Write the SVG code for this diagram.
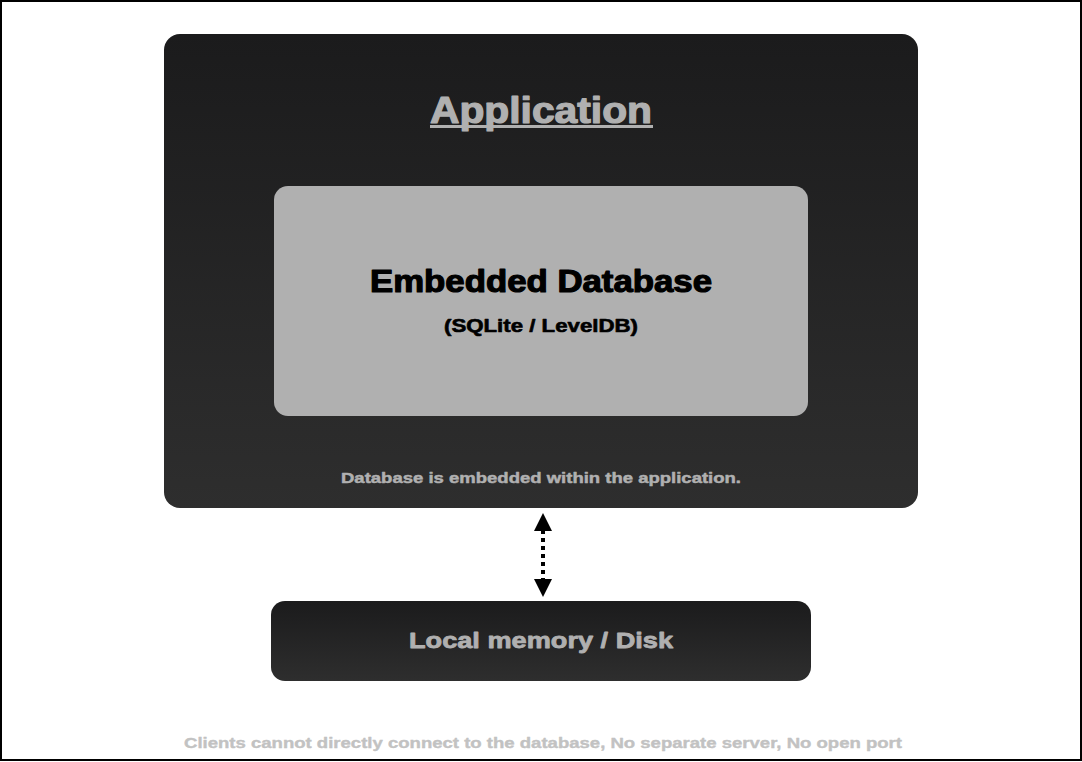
<svg xmlns="http://www.w3.org/2000/svg" width="1082" height="762" viewBox="0 0 1082 762">
<style>
text{font-family:"Liberation Sans",Arial,sans-serif;font-weight:bold;text-anchor:middle;stroke-linejoin:round}
.lt{fill:#b0b0b0;stroke:#b0b0b0}
.bk{fill:#000;stroke:#000}
</style>
<defs>
<linearGradient id="dark" x1="0" y1="0" x2="0" y2="1">
<stop offset="0" stop-color="#1b1b1c"/>
<stop offset="1" stop-color="#2e2e2e"/>
</linearGradient>
<marker id="ah" viewBox="0 0 10 10" refX="5" refY="5" markerWidth="4.5" markerHeight="4.5" orient="auto-start-reverse" markerUnits="strokeWidth">
<path d="M0,0 L10,5 L0,10 z" fill="#000"/>
</marker>
</defs>
<rect x="0" y="0" width="1082" height="762" fill="#fff"/>
<rect x="1" y="1" width="1080" height="759" fill="none" stroke="#000" stroke-width="2"/>
<g id="application">
<rect x="164" y="34" width="754" height="474" rx="16" fill="url(#dark)"/>
<text class="lt" x="541" y="123" font-size="36" stroke-width="1.2" textLength="222" lengthAdjust="spacingAndGlyphs">Application</text>
<rect x="430" y="125" width="223" height="3" fill="#b0b0b0"/>
<text class="lt" x="541" y="483" font-size="15.5" stroke-width="0.5" textLength="400" lengthAdjust="spacingAndGlyphs">Database is embedded within the application.</text>
</g>
<g id="embedded-db">
<rect x="274" y="186" width="534" height="230" rx="14" fill="#b0b0b0"/>
<text class="bk" x="541" y="292" font-size="32" stroke-width="1.2" textLength="342" lengthAdjust="spacingAndGlyphs">Embedded Database</text>
<text class="bk" x="541" y="332" font-size="18" stroke-width="0.6" textLength="194" lengthAdjust="spacingAndGlyphs">(SQLite / LevelDB)</text>
</g>
<g id="local-disk">
<rect x="271" y="601" width="540" height="80" rx="14" fill="url(#dark)"/>
<text class="lt" x="541" y="648" font-size="22.5" stroke-width="0.8" textLength="264" lengthAdjust="spacingAndGlyphs">Local memory / Disk</text>
</g>
<g id="connectors">
<line x1="543" y1="522" x2="543" y2="588" stroke="#000" stroke-width="4" stroke-dasharray="4,4" marker-start="url(#ah)" marker-end="url(#ah)"/>
</g>
<text x="543" y="748" font-size="15.5" fill="#c2c2c2" stroke="#c2c2c2" stroke-width="0.4" textLength="718" lengthAdjust="spacingAndGlyphs">Clients cannot directly connect to the database, No separate server, No open port</text>
</svg>
